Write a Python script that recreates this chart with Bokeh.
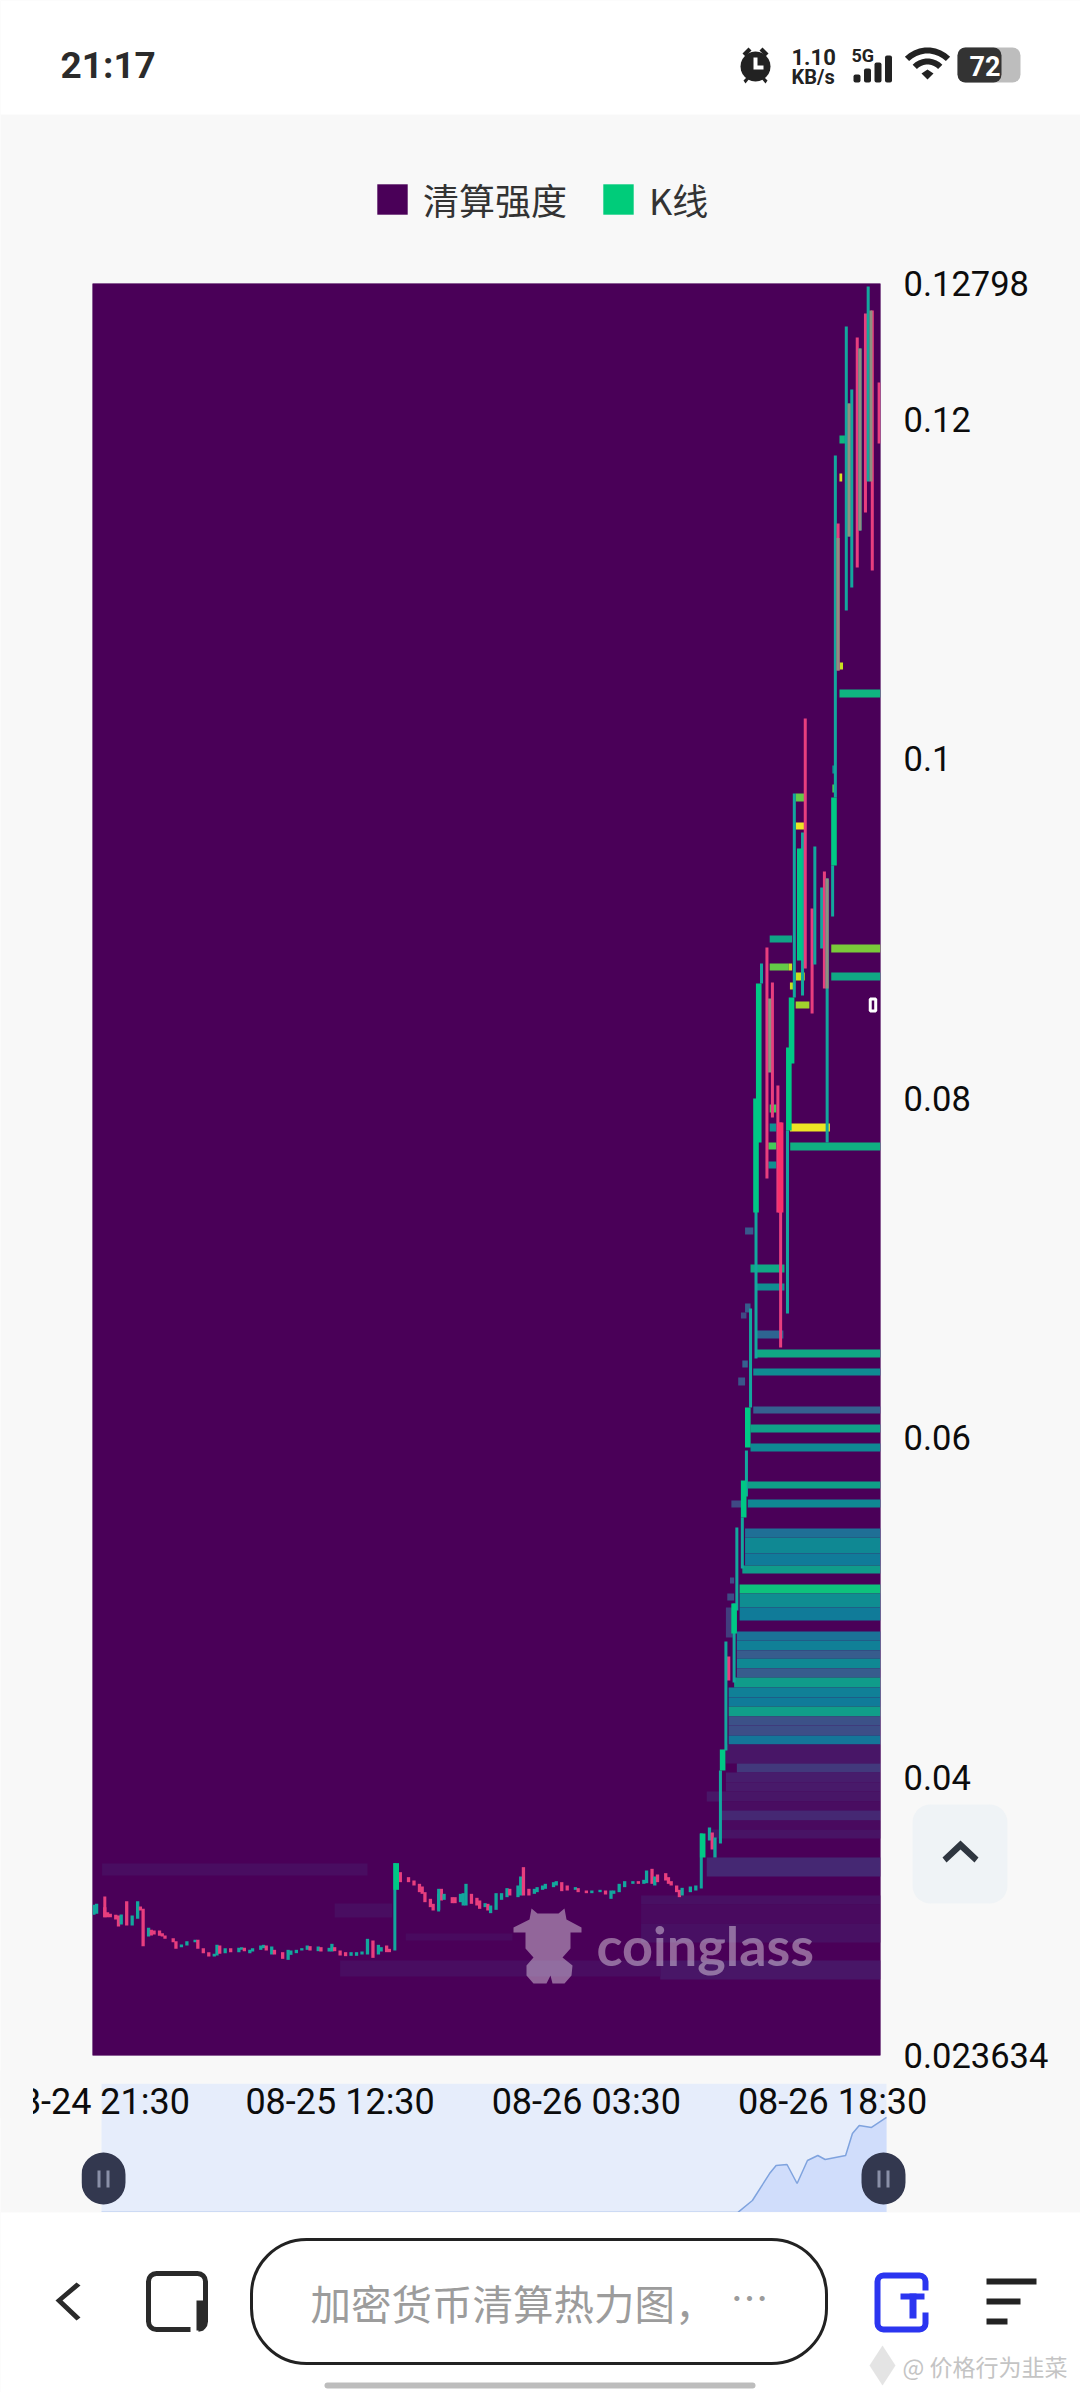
import math
from bokeh.plotting import figure
from bokeh.layouts import column
from bokeh.models import (Range1d, FixedTicker, BoxAnnotation, Label, PolyAnnotation,
                          Legend, LegendItem, LinearColorMapper, ColumnDataSource)
from bokeh.embed import file_html
from bokeh.resources import INLINE

# ---------------- chart values ----------------
series_names = ["清算强度", "K线"]
n_candles = 288
time_ticks = [0, 90, 180, 270]
time_labels = ["08-24 21:30", "08-25 12:30", "08-26 03:30", "08-26 18:30"]
price_ticks = [0.023634, 0.04, 0.06, 0.08, 0.1, 0.12, 0.12798]
price_labels = ["0.023634", "0.04", "0.06", "0.08", "0.1", "0.12", "0.12798"]
price_min, price_max = 0.023634, 0.12798

# heat map: first column, last column, upper price, lower price, intensity
heat_left = [-0.5,
    272.5, 269.5, 269.5, 254.5, 242, 241, 241, 240, 240, 239, 239, 238, 238, 238, 237, 236, 236, 236,
    235, 235, 235, 235, 235, 234, 232, 232, 232, 232, 232, 232,
    231, 235, 231, 231, 224, 229, 229, 229, 226, 224, 200, 200, 200, 207,
    3, 88, 90, 114,
    256.5, 256.5, 247, 247, 254, 256.5, 254.4, 256.5, 247, 247, 254.4, 246.5, 246.5,
    272.5, 272.5, 272.5, 269.9, 269.9, 238, 240, 242, 242,
    238, 236.5, 237, 235.5, 233, 232.5, 231.5, 231]
heat_right = [287.5,
    287.5, 287.5, 287.5, 287.5, 287.5, 287.5, 287.5, 287.5, 287.5, 287.5, 287.5, 287.5, 287.5, 287.5, 287.5, 287.5, 287.5, 287.5,
    287.5, 287.5, 287.5, 287.5, 287.5, 287.5, 287.5, 287.5, 287.5, 287.5, 287.5, 287.5,
    287.5, 287.5, 287.5, 287.5, 287.5, 287.5, 287.5, 287.5, 287.5, 287.5, 287.5, 287.5, 287.5, 287.5,
    100, 109, 207, 153,
    259.8, 259.8, 255.2, 254, 255.2, 259.8, 255.5, 261.5, 249.4, 249.4, 269, 249.4, 249.4,
    274.5, 273.5, 273.8, 270.6, 270.6, 241, 252.4, 252.4, 252,
    240, 238.5, 239, 238, 237, 234, 234, 233.5]
heat_top = [0.12798,
    0.104073, 0.089057, 0.087408, 0.077397, 0.065208, 0.064089, 0.061851, 0.060791, 0.059672, 0.057435, 0.056375, 0.054667, 0.054137, 0.053195, 0.052488, 0.051370, 0.050840, 0.050015,
    0.048602, 0.048072, 0.047483, 0.047012, 0.046423, 0.045893, 0.045304, 0.044715, 0.044185, 0.043597, 0.043067, 0.042478,
    0.041948, 0.040829, 0.040299, 0.039710, 0.039180, 0.038591, 0.038061, 0.037472, 0.036943, 0.035294, 0.033056, 0.032526, 0.031407, 0.029228,
    0.034940, 0.032585, 0.029228, 0.030818,
    0.097948, 0.096241, 0.089587, 0.087938, 0.087938, 0.087408, 0.086819, 0.085700, 0.079635, 0.078516, 0.078516, 0.077397, 0.076278,
    0.119030, 0.116792, 0.105662, 0.099597, 0.098478, 0.072392, 0.070213, 0.069094, 0.066327,
    0.067917, 0.067387, 0.064560, 0.063559, 0.056316, 0.051782, 0.050840, 0.050015]
heat_bottom = [0.023634,
    0.103601, 0.088586, 0.086937, 0.076926, 0.064737, 0.063677, 0.061439, 0.060320, 0.059201, 0.057023, 0.055904, 0.054137, 0.053195, 0.052488, 0.052017, 0.050840, 0.050015, 0.049250,
    0.048072, 0.047483, 0.047012, 0.046423, 0.045893, 0.045304, 0.044715, 0.044185, 0.043597, 0.043067, 0.042478, 0.041948,
    0.040829, 0.040299, 0.039710, 0.039180, 0.038591, 0.038061, 0.037472, 0.036943, 0.036413, 0.034175, 0.032526, 0.031407, 0.030288, 0.028110,
    0.034234, 0.031761, 0.028287, 0.030406,
    0.097477, 0.095829, 0.089175, 0.087526, 0.087526, 0.086937, 0.086407, 0.085288, 0.079164, 0.078045, 0.078045, 0.076985, 0.075866,
    0.118559, 0.116321, 0.105250, 0.099126, 0.098007, 0.071980, 0.069742, 0.068682, 0.065856,
    0.067387, 0.067033, 0.064148, 0.063088, 0.055904, 0.051428, 0.050427, 0.048249]
heat_value = [0,
    0.64, 0.80, 0.60, 0.62, 0.60, 0.48, 0.30, 0.57, 0.47, 0.57, 0.47, 0.36, 0.47, 0.41, 0.55, 0.68, 0.49, 0.41,
    0.37, 0.43, 0.28, 0.47, 0.28, 0.55, 0.43, 0.41, 0.56, 0.23, 0.22, 0.39,
    0.07, 0.16, 0.09, 0.08, 0.07, 0.04, 0.12, 0.03, 0.06, 0.12, 0.05, 0.03, 0.05, 0.07,
    0.04, 0.04, 0.04, 0.03,
    0.78, 0.97, 0.58, 0.78, 0.90, 0.90, 0.90, 0.85, 0.75, 0.50, 0.97, 0.75, 0.50,
    0.65, 0.93, 0.90, 0.50, 0.75, 0.27, 0.60, 0.50, 0.32,
    0.28, 0.20, 0.30, 0.25, 0.20, 0.20, 0.20, 0.17]

# small candles: column, open, close
small_i = [0, 1, 4, 5, 6, 8, 9, 10, 12, 14, 16, 17, 18, 20, 21, 22, 24, 25, 26, 29, 30, 32, 34, 37, 38, 40, 42, 44, 45, 46, 48, 50,
    53, 54, 55, 57, 58, 61, 62, 63, 65, 66, 69, 71, 72, 74, 76, 78, 79, 82, 83, 86, 87, 88, 90, 92, 94, 96, 98, 100, 102, 104, 105, 107, 108,
    112, 115, 117, 119, 120, 121, 123, 124, 126, 127, 128, 131, 132, 134, 135, 136, 138, 140, 141, 143, 144, 145, 147, 149, 151, 152,
    155, 156, 157, 159, 161, 162, 164, 165, 168, 169, 171, 173, 176, 177, 180, 182, 185, 187, 189, 190, 192, 194, 197, 199, 201, 202,
    204, 205, 206, 209, 210, 211, 213, 214, 215, 218, 220, 225, 226, 227, 232]
small_o = [0.031917, 0.031976, 0.032369, 0.032074, 0.031976, 0.031917, 0.031878, 0.031348, 0.032722, 0.031289, 0.031682, 0.032408, 0.032271, 0.030641, 0.031034, 0.030995,
    0.030995, 0.030838, 0.030700, 0.030543, 0.030367, 0.030013, 0.030111, 0.030308, 0.030445, 0.029954, 0.029719, 0.029464, 0.029523, 0.030111, 0.029660, 0.029954,
    0.029719, 0.029856, 0.029974, 0.029660, 0.029758, 0.029856, 0.029954, 0.030111, 0.029582, 0.029856, 0.029719, 0.029267, 0.029562, 0.029660, 0.029817, 0.029856,
    0.030072, 0.029778, 0.030013, 0.029758, 0.029758, 0.030013, 0.029817, 0.029719, 0.029503, 0.029503, 0.029582, 0.029582, 0.030406, 0.029582, 0.029758, 0.030111, 0.029915,
    0.034430, 0.034136, 0.033939, 0.033743, 0.033586, 0.033252, 0.032860, 0.032565, 0.032212, 0.033449, 0.032801, 0.032958, 0.032958, 0.032663, 0.032467, 0.032467,
    0.033154, 0.032919, 0.032762, 0.032369, 0.032565, 0.032016, 0.032212, 0.032801, 0.032958, 0.033449,
    0.032958, 0.033056, 0.034725, 0.033449, 0.033154, 0.033252, 0.033390, 0.033449, 0.033547, 0.033645, 0.033841, 0.033645, 0.033390, 0.033488, 0.033350, 0.033193,
    0.033252, 0.033350, 0.032860, 0.033154, 0.033252, 0.033547, 0.033743, 0.033900, 0.033743, 0.033782,
    0.034626, 0.033645, 0.034293, 0.034371, 0.034136, 0.033900, 0.033645, 0.033390, 0.033056, 0.033252, 0.033350, 0.036295, 0.036766, 0.035294, 0.047130]
small_c = [0.032506, 0.032565, 0.031780, 0.031780, 0.031780, 0.031643, 0.031230, 0.031937, 0.031289, 0.031878, 0.032722, 0.032173, 0.030072, 0.031152, 0.030700, 0.030759,
    0.030681, 0.030641, 0.030504, 0.030308, 0.029915, 0.030170, 0.030367, 0.030445, 0.029915, 0.029660, 0.029464, 0.029621, 0.030151, 0.029621, 0.029954, 0.029719,
    0.029974, 0.030013, 0.029778, 0.029856, 0.029954, 0.030111, 0.030151, 0.029817, 0.030053, 0.029582, 0.029326, 0.029856, 0.029817, 0.029856, 0.029954, 0.030111,
    0.029817, 0.030053, 0.029758, 0.029974, 0.030210, 0.029778, 0.029523, 0.029483, 0.029719, 0.029719, 0.029758, 0.030504, 0.029385, 0.030151, 0.030013, 0.029719, 0.029719,
    0.033841, 0.033841, 0.033645, 0.033252, 0.033154, 0.032663, 0.032369, 0.032173, 0.033154, 0.032761, 0.033154, 0.032604, 0.032604, 0.033154, 0.033193, 0.033743,
    0.032565, 0.032467, 0.032271, 0.032604, 0.032173, 0.032467, 0.033193, 0.033193, 0.033488, 0.033056,
    0.033645, 0.034175, 0.033056, 0.033056, 0.033449, 0.033547, 0.033645, 0.033743, 0.033841, 0.033900, 0.033311, 0.033350, 0.033547, 0.033252, 0.033193, 0.033350,
    0.033390, 0.033115, 0.033350, 0.033350, 0.033743, 0.033900, 0.033900, 0.033743, 0.033979, 0.034528,
    0.033743, 0.034175, 0.033841, 0.033939, 0.033743, 0.033645, 0.033252, 0.032958, 0.033508, 0.033586, 0.033645, 0.037061, 0.035765, 0.036472, 0.045717]

# long wicks: column, high, low, direction (1 = rising candle)
wick_i = [4, 110, 126, 222, 229, 231, 234, 235, 237, 238.5, 240, 242, 244, 246, 248, 250, 251, 253.5, 256, 259, 260, 262.5, 263.5,
    266, 267, 268, 270, 271, 272, 275, 276, 277, 279, 280, 282, 283, 284.5, 287]
wick_h = [0.032997, 0.034960, 0.033449, 0.036707, 0.040417, 0.048013, 0.050251, 0.054726, 0.055315, 0.059260, 0.067622, 0.073393, 0.087938,
    0.088880, 0.086819, 0.080754, 0.078575, 0.078104, 0.097948, 0.095652, 0.102365, 0.091176, 0.094827,
    0.092413, 0.093355, 0.092943, 0.093709, 0.117852, 0.113848, 0.125448, 0.120914, 0.121738, 0.124800, 0.124153, 0.126214, 0.127804, 0.126390, 0.122151]
wick_l = [0.031780, 0.029817, 0.032114, 0.033468, 0.036118, 0.041594, 0.045599, 0.049839, 0.052312, 0.056552, 0.061792, 0.064678, 0.086760,
    0.075277, 0.078869, 0.073275, 0.065326, 0.067328, 0.085936, 0.086053, 0.087643, 0.084993, 0.087879,
    0.088821, 0.086466, 0.077397, 0.090705, 0.097713, 0.105191, 0.108725, 0.113082, 0.110079, 0.111257, 0.113435, 0.114495, 0.116321, 0.111080, 0.118559]
wick_up = [0, 1, 1, 1, 1, 1, 1, 1, 1, 1, 1, 1, 1,
    0, 0, 0, 0, 1, 1, 1, 0, 0, 1,
    1, 0, 1, 1, 1, 0, 1, 1, 1, 0, 1, 0, 1, 0, 0]

# thick candle bodies: column, open, close
body_i = [110.5, 222.5, 229.8, 234, 237.5, 239, 242, 243, 251, 254, 255, 258, 270.5]
body_o = [0.033390, 0.035294, 0.040417, 0.048484, 0.055315, 0.059437, 0.073275, 0.077397, 0.078575, 0.078104, 0.082049, 0.088114, 0.093709]
body_c = [0.034960, 0.036707, 0.041654, 0.050251, 0.057494, 0.061792, 0.079988, 0.086760, 0.073275, 0.082991, 0.085936, 0.094710, 0.097713]

# overlapped candles, which read as grey
mixed_i = [247, 268, 272, 276, 280, 284]
mixed_h = [0.085877, 0.092943, 0.113000, 0.120914, 0.124153, 0.126390]
mixed_l = [0.081519, 0.086466, 0.105191, 0.113082, 0.113435, 0.116321]

# single highlighted cell
cell_i = [284.75]
cell_h = [0.085848]
cell_l = [0.085140]

# overview strip
overview_i = [-0.5, 233, 238.3, 244.6, 247, 251, 254.7, 258.5, 262.3, 265, 272.5, 275, 277.5, 282, 287.5]
overview_close = [0.0451, 0.0451, 0.0551, 0.0778, 0.0846, 0.0854, 0.0694, 0.0888, 0.0930, 0.0896, 0.0930, 0.1115, 0.1183, 0.1166, 0.1250]
overview_floor = 0.045
overview_ceiling = 0.1536

# ---------------- styling ----------------
PAGE = "#f8f8f8"
TEAL, PINK = "#13a79d", "#e83e7e"
BODY_UP, BODY_DOWN = "#00c885", "#fa2f6b"
GREY = "#8e9080"
BG = "#4a0058"
AX_FONT = "Roboto"
CJK = "Noto Sans CJK SC"
stops = ["#4a0058", "#47206e", "#3f4a85", "#35608f", "#10799a", "#0f8f90", "#10a884", "#0ec97a", "#7ac93a", "#c8e020", "#fde725"]
palette = []
for i in range(10):
    a = [int(stops[i][k:k + 2], 16) for k in (1, 3, 5)]
    b_ = [int(stops[i + 1][k:k + 2], 16) for k in (1, 3, 5)]
    for t in range(10):
        palette.append("#%02x%02x%02x" % tuple(round(u + (v - u) * t / 10) for u, v in zip(a, b_)))
palette.append(stops[-1])
mapper = LinearColorMapper(palette=palette, low=0, high=1)


def chrome(fig, left, top):
    """Helpers for page furniture, placed in page pixels."""
    def box(l, r, t, b, color, radius=0, level="annotation", line=None, lw=0):
        fig.add_layout(BoxAnnotation(
            left=l - left, right=r - left, top=t - top, bottom=b - top,
            left_units="canvas", right_units="canvas", top_units="canvas", bottom_units="canvas",
            fill_color=color, fill_alpha=1, line_color=line, line_alpha=1 if line else 0,
            line_width=lw, border_radius=radius, level=level))

    def text(x, y, s, size, color="#111111", font=AX_FONT, style="normal", align="left", alpha=1.0):
        fig.add_layout(Label(
            x=x - left, y=y - top, x_units="canvas", y_units="canvas", text=s,
            text_font=font, text_font_size=f"{size}px", text_font_style=style,
            text_color=color, text_alpha=alpha, text_align=align, text_baseline="middle"))

    def poly(pts, color, alpha=1.0):
        fig.add_layout(PolyAnnotation(
            xs=[a - left for a, _ in pts], ys=[b - top for _, b in pts],
            xs_units="canvas", ys_units="canvas",
            fill_color=color, fill_alpha=alpha, line_alpha=0))
    return box, text, poly


NO_BORDER = dict(min_border=0, min_border_left=0, min_border_right=0, min_border_top=0, min_border_bottom=0)

# ---------------- backdrop: the page furniture and the legend ----------------
b = figure(width=1080, height=2392, output_backend="svg", toolbar_location=None, tools="",
           x_range=Range1d(0, 1080), y_range=Range1d(0, 2392),
           x_axis_location=None, y_axis_location=None, frame_align=False, **NO_BORDER)
b.background_fill_color = PAGE
b.border_fill_color = PAGE
b.outline_line_color = None
b.grid.visible = False

sw_heat = b.quad(left=[-20], right=[-10], top=[-10], bottom=[-20], fill_color=BG, line_color=None)
sw_kline = b.quad(left=[-20], right=[-10], top=[-10], bottom=[-20], fill_color="#00cc7a", line_color=None)
legend = Legend(items=[LegendItem(label=series_names[0], renderers=[sw_heat]),
                       LegendItem(label=series_names[1], renderers=[sw_kline])],
                orientation="horizontal", location=(373, 2167), glyph_width=38, glyph_height=38,
                label_standoff=12, spacing=32, padding=0, margin=0,
                background_fill_alpha=0, border_line_alpha=0,
                label_text_font=CJK, label_text_font_size="36px", label_text_color="#333333")
b.add_layout(legend, "center")

box, text, poly = chrome(b, 0, 0)
box(0, 1080, 0, 114, "#ffffff", level="underlay")
box(0, 1080, 2212, 2392, "#ffffff", level="underlay")

# status bar
text(60, 65, "21:17", 37, "#2b2b2b", style="bold")
ring = [(755 + 15 * math.cos(i * math.pi / 12), 66 + 15 * math.sin(i * math.pi / 12)) for i in range(24)]
poly(ring, "#222222")
poly([(742, 53), (748, 47), (751, 50), (745, 56)], "#222222")
poly([(768, 53), (762, 47), (759, 50), (765, 56)], "#222222")
poly([(743, 80), (747, 76), (749, 78), (745, 83)], "#222222")
poly([(767, 80), (763, 76), (761, 78), (765, 83)], "#222222")
poly([(753, 57), (757, 57), (757, 65), (763, 65), (763, 69), (753, 69)], "#ffffff")
text(791, 56, "1.10", 22, "#222222", style="bold")
text(791, 76, "KB/s", 20, "#222222", style="bold")
text(851, 55, "5G", 18, "#222222", style="bold")
for i, h in enumerate((8, 14, 20, 27)):
    box(853 + i * 10.5, 860 + i * 10.5, 82 - h, 82, "#222222", radius=2)
for r0, r1 in ((26, 32), (15, 21)):
    arc = [math.radians(a) for a in range(-135, -44, 10)]
    poly([(927 + r1 * math.cos(a), 79 + r1 * math.sin(a)) for a in arc] +
         [(927 + r0 * math.cos(a), 79 + r0 * math.sin(a)) for a in reversed(arc)], "#222222")
poly([(927, 79), (921, 73), (927, 69), (933, 73)], "#222222")
box(957, 1020, 47, 82, "#bdbdbd", radius=8)
box(957, 1001, 47, 82, "#333333", radius=8)
text(969, 65, "72", 27, "#ffffff", style="bold")

# back-to-top button
box(912, 1007, 1804, 1903, "#eff3f6", radius=18)
poly([(960, 1840), (978, 1857), (974, 1862), (960, 1849), (946, 1862), (942, 1857)], "#2f3640")

# bottom bar
poly([(76, 2282), (80, 2285), (62, 2300), (80, 2317), (76, 2320), (55, 2300)], "#2a2a2a")
box(148, 205, 2273, 2329, "#ffffff", radius=8, line="#2a2a2a", lw=5)
box(190, 198, 2296, 2332, "#ffffff")
box(196, 203, 2300, 2330, "#2a2a2a")
box(251, 826, 2239, 2363, "#ffffff", radius=55, line="#222222", lw=3)
text(310, 2302, "加密货币清算热力图，", 40.5, "#9c9c9c", font=CJK)
text(730, 2296, "…", 38, "#9c9c9c", font=CJK)
box(877, 925, 2275, 2329, "#ffffff", radius=6, line="#2b35f0", lw=6)
box(918, 930, 2290, 2312, "#ffffff")
box(900, 924, 2293, 2299, "#2b35f0")
box(909, 916, 2293, 2318, "#2b35f0")
box(986, 1036, 2278, 2284, "#222222")
box(986, 1020, 2298, 2304, "#222222")
box(986, 1007, 2318, 2324, "#222222")
poly([(882, 2345), (895, 2365), (882, 2385), (869, 2365)], "#c9c9c9", 0.5)
text(902, 2365, "@ 价格行为韭菜", 23, "#c4c4c4", font=CJK)
box(324, 755, 2382, 2388, "#bdbdbd", radius=3)

# ---------------- overview strip ----------------
px_per_col = 785 / n_candles
q = figure(width=825, height=129, output_backend="svg", toolbar_location=None, tools="",
           x_range=Range1d(-0.5 - 20 / px_per_col, n_candles - 0.5 + 20 / px_per_col),
           y_range=Range1d(overview_floor, overview_ceiling),
           x_axis_location=None, y_axis_location=None, frame_align=False,
           margin=(-309, 0, 0, 81), **NO_BORDER)
q.background_fill_alpha = 0
q.border_fill_alpha = 0
q.outline_line_color = None
q.grid.visible = False
q.quad(left=[-0.5], right=[n_candles - 0.5], top=[overview_ceiling], bottom=[overview_floor],
       fill_color="#e6edfb", line_color=None)
q.varea(x=overview_i, y1=[overview_floor] * len(overview_i), y2=overview_close, fill_color="#d0ddfb")
q.line(x=overview_i, y=overview_close, line_color="#7fa3de", line_width=1.5)
box, text, poly = chrome(q, 81, 2083)
for c in (103, 883):
    box(c - 22, c + 22, 2152, 2204, "#33384f", radius=22)
    box(c - 6, c - 3, 2170, 2187, "#8a90a8")
    box(c + 3, c + 6, 2170, 2187, "#8a90a8")

# ---------------- main chart ----------------
p = figure(width=1080, height=2125, output_backend="svg", toolbar_location=None, tools="",
           x_range=Range1d(-0.5, n_candles - 0.5), y_range=Range1d(price_min, price_max),
           y_axis_location="right", frame_align=False, min_border_left=92, min_border_right=200,
           min_border_top=283, min_border_bottom=70, margin=(-2212, 0, 0, 0))
p.background_fill_color = BG
p.border_fill_alpha = 0
p.outline_line_color = None
p.grid.visible = False

heat_src = ColumnDataSource(dict(l=heat_left, r=heat_right, t=heat_top, b=heat_bottom, v=heat_value))
p.quad(left="l", right="r", top="t", bottom="b", source=heat_src,
       fill_color={"field": "v", "transform": mapper}, line_color=None)
p.quad(left=[c - 1.0 for c in cell_i], right=[c + 1.0 for c in cell_i], top=cell_h, bottom=cell_l,
       fill_color=BG, line_color="#ffffff", line_width=3)

small_colors = [TEAL if c > o else PINK for o, c in zip(small_o, small_c)]
p.vbar(x=small_i, top=[max(u, v) for u, v in zip(small_o, small_c)],
       bottom=[min(u, v) for u, v in zip(small_o, small_c)], width=1.2,
       fill_color=small_colors, line_color=None)
p.vbar(x=wick_i, top=wick_h, bottom=wick_l, width=1.1,
       fill_color=[TEAL if u else PINK for u in wick_up], line_color=None)
p.vbar(x=mixed_i, top=mixed_h, bottom=mixed_l, width=1.1, fill_color=GREY, line_color=None)
p.vbar(x=body_i, top=[max(u, v) for u, v in zip(body_o, body_c)],
       bottom=[min(u, v) for u, v in zip(body_o, body_c)], width=2.05,
       fill_color=[BODY_UP if c > o else BODY_DOWN for o, c in zip(body_o, body_c)],
       line_color=None)

p.xaxis.ticker = FixedTicker(ticks=time_ticks)
p.xaxis.major_label_overrides = dict(zip(time_ticks, time_labels))
p.yaxis.ticker = FixedTicker(ticks=price_ticks)
p.yaxis.major_label_overrides = dict(zip(price_ticks, price_labels))
for ax in (p.xaxis[0], p.yaxis[0]):
    ax.axis_line_color = None
    ax.major_tick_line_color = None
    ax.minor_tick_line_color = None
    ax.major_label_text_font = AX_FONT
    ax.major_label_text_color = "#0c0c0c"
p.xaxis[0].major_label_text_font_size = "36px"
p.yaxis[0].major_label_text_font_size = "34.5px"
p.xaxis[0].major_label_standoff = 19
p.yaxis[0].major_label_standoff = 17

box, text, poly = chrome(p, 0, 0)
poly([(531, 1908), (537, 1913), (558, 1913), (564, 1908), (566, 1919), (581, 1927), (581, 1932), (570, 1932),
      (570, 1948), (562, 1957), (572, 1965), (571, 1975), (564, 1983), (552, 1983), (550, 1975), (546, 1983),
      (533, 1983), (526, 1975), (526, 1965), (533, 1957), (525, 1948), (525, 1932), (513, 1932), (513, 1927),
      (529, 1919)], "#ffffff", 0.40)
text(596, 1945, "coinglass", 54, "#ffffff", font="Lato", style="bold", alpha=0.40)

# the strip that trims the first time label at the page's left edge
c_ = figure(width=33, height=48, output_backend="svg", toolbar_location=None, tools="",
            x_axis_location=None, y_axis_location=None, frame_align=False,
            margin=(-55, 0, 0, 0), **NO_BORDER)
c_.background_fill_color = PAGE
c_.border_fill_color = PAGE
c_.outline_line_color = None
c_.grid.visible = False

page = column(b, q, p, c_, spacing=0)
open("out.html", "w").write(file_html(page, INLINE))
